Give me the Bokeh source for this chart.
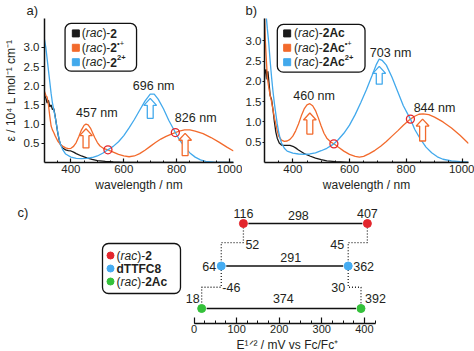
from bokeh.plotting import figure
from bokeh.layouts import column, row
from bokeh.models import Range1d, FixedTicker, BoxAnnotation, PrintfTickFormatter, Title
from bokeh.core.properties import value
from bokeh.embed import file_html
from bokeh.resources import INLINE

FONT = "Liberation Sans"
TXT = "#231f20"
BLACK = "#1a1a1a"
ORANGE = "#f26a2c"
BLUE = "#42a9ec"
RED = "#e3262d"
GREEN = "#34c13a"
CBLUE = "#45acf2"

# ---------------- data: panel a ----------------
wl_a_neutral = [300, 305, 310, 315, 320, 325, 330, 335, 340, 345, 350, 355, 360, 370, 380, 390, 400, 410, 420, 440,
                460, 480, 500, 530, 560, 600, 700, 800, 900, 1015]
eps_a_neutral = [1.75, 1.68, 1.55, 1.62, 1.45, 1.5, 1.38, 1.4, 1.22, 1.0, 0.78, 0.6, 0.48, 0.37, 0.33, 0.31, 0.3, 0.27,
                 0.23, 0.17, 0.12, 0.08, 0.05, 0.03, 0.015, 0.005, 0, 0, 0, 0]
wl_a_rad = [300, 305, 310, 315, 320, 325, 330, 335, 340, 350, 360, 370, 380, 390, 400, 410, 420, 430, 440, 450, 457,
            465, 475, 490, 500, 510, 525, 540, 560, 580, 600, 620, 640, 660, 680, 700, 720, 740, 760, 780, 795, 810,
            830, 850, 870, 900, 930, 960, 990, 1015]
eps_a_rad = [1.85, 1.75, 1.7, 1.5, 1.2, 0.95, 0.85, 0.78, 0.7, 0.56, 0.47, 0.42, 0.38, 0.36, 0.37, 0.42, 0.52, 0.68,
             0.85, 0.97, 1.0, 0.98, 0.88, 0.65, 0.52, 0.43, 0.36, 0.33, 0.27, 0.21, 0.17, 0.15, 0.17, 0.23, 0.32, 0.42,
             0.52, 0.61, 0.68, 0.74, 0.78, 0.82, 0.85, 0.85, 0.82, 0.75, 0.65, 0.53, 0.4, 0.3]
wl_a_dic = [300, 305, 310, 315, 320, 325, 330, 335, 340, 345, 350, 355, 360, 370, 380, 400, 420, 440, 460, 480, 500,
            520, 540, 560, 580, 600, 620, 640, 660, 680, 700, 715, 730, 750, 770, 795, 810, 830, 850, 870, 890, 910,
            940, 970, 1015]
eps_a_dic = [3.2, 3.0, 2.7, 2.4, 2.1, 1.8, 1.55, 1.38, 1.2, 1.0, 0.8, 0.62, 0.48, 0.32, 0.22, 0.14, 0.11, 0.1, 0.11,
             0.13, 0.17, 0.24, 0.33, 0.42, 0.54, 0.7, 0.9, 1.12, 1.36, 1.6, 1.78, 1.78, 1.65, 1.4, 1.1, 0.78, 0.6, 0.4,
             0.25, 0.14, 0.07, 0.03, 0.01, 0.0, 0.0]
peak_text_a = ["457 nm", "696 nm", "826 nm"]
peak_lx_a = [498, 713, 872]
peak_ly_a = [1.28, 2.0, 1.15]
arrow_x_a = [457, 700, 832]
arrow_y0_a = [0.38, 1.15, 0.18]
arrow_y1_a = [0.88, 1.67, 0.76]
iso_x_a = [540, 795]
iso_y_a = [0.33, 0.78]

# ---------------- data: panel b ----------------
wl_b_neutral = [300, 303, 306, 309, 312, 316, 320, 325, 330, 335, 340, 345, 352, 360, 370, 390, 400, 410, 420, 440,
                460, 480, 500, 520, 550, 600, 700, 800, 900, 1020]
eps_b_neutral = [2.05, 2.25, 2.3, 2.05, 2.25, 1.95, 1.65, 1.55, 1.3, 1.0, 0.75, 0.6, 0.48, 0.43, 0.42, 0.42, 0.4, 0.36,
                 0.31, 0.22, 0.16, 0.11, 0.07, 0.04, 0.02, 0.0, 0, 0, 0, 0]
wl_b_rad = [300, 303, 306, 310, 315, 320, 325, 330, 335, 340, 345, 350, 360, 370, 380, 390, 400, 410, 420, 430, 440,
            450, 460, 470, 480, 490, 500, 510, 520, 535, 545, 560, 580, 600, 620, 635, 650, 670, 690, 710, 730, 750,
            770, 790, 815, 830, 845, 860, 880, 900, 930, 960, 990, 1020]
eps_b_rad = [3.6, 3.0, 2.6, 2.1, 1.85, 1.65, 1.5, 1.3, 1.1, 0.95, 0.78, 0.65, 0.55, 0.52, 0.53, 0.57, 0.65, 0.78, 0.95,
             1.15, 1.32, 1.42, 1.45, 1.4, 1.28, 1.1, 0.9, 0.72, 0.6, 0.5, 0.46, 0.38, 0.28, 0.2, 0.15, 0.13, 0.15,
             0.22, 0.3, 0.4, 0.52, 0.65, 0.78, 0.92, 1.07, 1.14, 1.19, 1.2, 1.18, 1.12, 1.0, 0.85, 0.67, 0.47]
wl_b_dic = [300, 305, 310, 315, 320, 325, 330, 335, 340, 345, 350, 355, 360, 370, 380, 400, 420, 440, 460, 480, 500,
            520, 545, 560, 580, 600, 620, 640, 660, 680, 695, 705, 715, 730, 750, 770, 790, 815, 830, 850, 870, 890,
            910, 930, 960, 990, 1020]
eps_b_dic = [4.0, 3.7, 3.3, 2.95, 2.5, 2.1, 1.75, 1.45, 1.2, 0.95, 0.75, 0.6, 0.48, 0.35, 0.28, 0.23, 0.21, 0.2, 0.21,
             0.24, 0.29, 0.35, 0.46, 0.56, 0.72, 0.92, 1.18, 1.48, 1.8, 2.15, 2.42, 2.55, 2.52, 2.4, 2.1, 1.75, 1.4,
             1.07, 0.82, 0.58, 0.38, 0.24, 0.14, 0.08, 0.04, 0.02, 0.01]
peak_text_b = ["460 nm", "703 nm", "844 nm"]
peak_lx_b = [475, 745, 900]
peak_ly_b = [1.64, 2.7, 1.35]
arrow_x_b = [460, 705, 858]
arrow_y0_b = [0.70, 1.93, 0.53]
arrow_y1_b = [1.22, 2.37, 1.07]
iso_x_b = [545, 815]
iso_y_b = [0.46, 1.07]

wl_ticks = [400, 600, 800, 1000]
eps_ticks = [0.5, 1.0, 1.5, 2.0, 2.5, 3.0]

# ---------------- data: panel c ----------------
compounds_c = ["(rac)-2", "dTTFC8", "(rac)-2Ac"]
e1_c = [116, 64, 18]
e2_c = [407, 362, 392]
de_c = [298, 291, 374]
shift1_c = [52, -46]     # first wave vs dTTFC8
shift2_c = [45, 30]      # second wave vs dTTFC8
e_ticks = [0, 100, 200, 300, 400]

# ---------------- helpers ----------------
W_REG = {'(': 333, ')': 333, '-': 333, 'r': 333, 'a': 556, 'c': 500, '2': 556, 'A': 667, ' ': 278, '/': 278,
         'm': 833, 'V': 667, 'v': 500, 's': 500, 'F': 611, '1': 556, '+': 584}
W_BOLD = {'2': 556, 'A': 722, 'c': 556, 'd': 611, 'T': 611, 'F': 611, 'C': 722, '8': 556, 'E': 667}


def tw(s, size, bold=False):
    d = W_BOLD if bold else W_REG
    return sum(d.get(ch, 556) for ch in s) * size / 1000.0


def txt(p, x, y, s, size=12, style="normal", align="left", xo=0, color=TXT):
    p.text(x=[x], y=[y], text=[s], x_offset=xo, text_font=value(FONT), text_font_size=f"{size}px",
           text_font_style=style, text_align=align, text_baseline="middle", text_color=color)


def styled_label(p, X, Y, sx, sy, parts, size):
    off = 0
    for s, style, sz, dy in parts:
        txt(p, X(sx), Y(sy - dy), s, size=sz, style=style, xo=off)
        off += tw(s, sz, "bold" in style)


def draw_legend(p, X, Y, box, rows, marker, msize, mx, tx, size=12):
    l, r, t, b = box
    p.add_layout(BoxAnnotation(left=X(l), right=X(r), top=Y(t), bottom=Y(b), fill_color="white", fill_alpha=1,
                               line_color="#111111", line_width=1.3, line_alpha=1, border_radius=6, level="underlay"))
    for sy, color, parts in rows:
        p.scatter([X(mx)], [Y(sy)], marker=marker, size=msize, fill_color=color, line_color=color)
        styled_label(p, X, Y, tx, sy, parts, size)


def arrow_poly(x, y0, y1, kx, ky, sw=3.0, hw=6.5, hl=7.0):
    a, b, h = sw / kx, hw / kx, hl / ky
    xs = [x - a, x + a, x + a, x + b, x, x - b, x - a]
    ys = [y0, y0, y1 - h, y1 - h, y1, y1 - h, y1 - h]
    return xs, ys


def spectrum_fig(width, left, right, xr, yr, ylabel, letter, letter_off, ytick_out, ystandoff):
    p = figure(width=width, height=195, x_range=Range1d(*xr), y_range=Range1d(*yr), output_backend="svg",
               toolbar_location=None, min_border_left=left, min_border_right=right, min_border_top=17,
               min_border_bottom=33, title=letter)
    p.title.align = "left"
    p.title.offset = letter_off
    p.title.text_font = FONT
    p.title.text_font_size = "13px"
    p.title.text_font_style = "normal"
    p.title.text_color = TXT
    p.title.standoff = 1
    p.outline_line_color = None
    p.xgrid.visible = False
    p.ygrid.visible = False
    p.background_fill_color = "white"
    p.border_fill_color = "white"
    xa, ya = p.xaxis[0], p.yaxis[0]
    xa.ticker = FixedTicker(ticks=wl_ticks, minor_ticks=list(range(350, 1001, 50)))
    xa.major_tick_in, xa.major_tick_out = 4, 0
    xa.minor_tick_in, xa.minor_tick_out = 2, 0
    ya.ticker = FixedTicker(ticks=eps_ticks)
    ya.formatter = PrintfTickFormatter(format="%.1f")
    for ax in (xa, ya):
        ax.axis_line_width = 1.5
        ax.axis_line_color = "#111111"
        ax.major_tick_line_color = "#111111"
        ax.major_tick_line_width = 1.2
        ax.major_label_text_font = FONT
        ax.major_label_text_font_size = "11.5px"
        ax.major_label_text_color = TXT
        ax.major_label_standoff = 2
        ax.axis_label_text_font = FONT
        ax.axis_label_text_font_size = "12px"
        ax.axis_label_text_font_style = "normal"
        ax.axis_label_text_color = TXT
    ya.major_tick_in, ya.major_tick_out = 0, ytick_out
    ya.major_label_standoff = ystandoff
    xa.minor_tick_line_color = "#111111"
    ya.minor_tick_line_color = None
    xa.axis_label = "wavelength / nm"
    xa.axis_label_standoff = 2
    if ylabel:
        ya.axis_label = ylabel
        ya.axis_label_standoff = 3
    return p


def draw_spectra(p, series, peaks, arrows, iso, kx, ky):
    for wl, eps, color in series:
        p.line(wl, eps, line_color=color, line_width=1.3)
    ax_, ay0, ay1, acol = arrows
    xs, ys = [], []
    for x, y0, y1 in zip(ax_, ay0, ay1):
        a, b = arrow_poly(x, y0, y1, kx, ky)
        xs.append(a)
        ys.append(b)
    p.patches(xs, ys, fill_color="white", line_color=acol, line_width=1.3)
    ptxt, plx, ply = peaks
    p.text(x=plx, y=ply, text=ptxt, text_font=value(FONT), text_font_size="12.5px", text_align="center",
           text_baseline="middle", text_color=TXT)
    p.scatter(iso[0], iso[1], marker="circle", size=8, fill_color=None, line_color=RED, line_width=1.3)


# ---------------- panel a ----------------
XA0, XA1, YA1 = 300, 1015, 3.75
pa = spectrum_fig(242, 40, 9, (XA0, XA1), (0, YA1), "ε / 10⁴ L mol⁻¹ cm⁻¹", "a)", -18, 3, 2)
kxa, kya = 193 / (XA1 - XA0), 145 / YA1
Xa = lambda sx: XA0 + (sx - 40) / kxa
Ya = lambda sy: (162 - sy) / kya
draw_spectra(pa, [(wl_a_neutral, eps_a_neutral, BLACK), (wl_a_rad, eps_a_rad, ORANGE), (wl_a_dic, eps_a_dic, BLUE)],
             (peak_text_a, peak_lx_a, peak_ly_a),
             (arrow_x_a, arrow_y0_a, arrow_y1_a, [ORANGE, BLUE, ORANGE]), (iso_x_a, iso_y_a), kxa, kya)
pre = [("(", "normal", 12, 0), ("rac", "italic", 12, 0), (")-", "normal", 12, 0)]
draw_legend(pa, Xa, Ya, (61, 134, 22, 70),
            [(32, BLACK, pre + [("2", "bold", 12, 0)]),
             (46.5, ORANGE, pre + [("2", "bold", 12, 0), ("•+", "normal", 7.5, 4.5)]),
             (61, BLUE, pre + [("2", "bold", 12, 0), ("2+", "bold", 7.5, 4.5)])],
            "square", 7, 72, 78)

# ---------------- panel b ----------------
XB0, XB1, YB1 = 300, 1020, 3.55
pb = spectrum_fig(232, 19, 6, (XB0, XB1), (0, YB1), None, "b)", -19, 2, 1)
kxb, kyb = 207 / (XB1 - XB0), 145 / YB1
Xb = lambda sx: XB0 + (sx - 261) / kxb
Yb = lambda sy: (162 - sy) / kyb
draw_spectra(pb, [(wl_b_neutral, eps_b_neutral, BLACK), (wl_b_rad, eps_b_rad, ORANGE), (wl_b_dic, eps_b_dic, BLUE)],
             (peak_text_b, peak_lx_b, peak_ly_b),
             (arrow_x_b, arrow_y0_b, arrow_y1_b, [ORANGE, BLUE, ORANGE]), (iso_x_b, iso_y_b), kxb, kyb)
draw_legend(pb, Xb, Yb, (274, 363, 23, 71),
            [(32, BLACK, pre + [("2Ac", "bold", 12, 0)]),
             (46.5, ORANGE, pre + [("2Ac", "bold", 12, 0), ("•+", "normal", 7.5, 4.5)]),
             (61, BLUE, pre + [("2Ac", "bold", 12, 0), ("2+", "bold", 7.5, 4.5)])],
            "square", 7, 284, 291)

# ---------------- panel c ----------------
KC, X0C, UC, YG = 0.426, 193.5, 42.5, 308      # px per mV, px of 0 mV, px per row, px of bottom row
Xc = lambda sx: (sx - X0C) / KC
Yc = lambda sy: (YG - sy) / UC
pc = figure(width=474, height=156, x_range=Range1d(Xc(0), Xc(474)), y_range=Range1d(Yc(323), Yc(195)),
            output_backend="svg", toolbar_location=None, y_axis_location=None, min_border_left=0,
            min_border_right=0, min_border_top=0, min_border_bottom=28)
pc.outline_line_color = None
pc.xgrid.visible = False
pc.ygrid.visible = False
xc = pc.xaxis[0]
xc.bounds = (0, Xc(375))
xc.ticker = FixedTicker(ticks=e_ticks, minor_ticks=list(range(0, 426, 25)))
xc.major_tick_in, xc.major_tick_out = 6, 0
xc.minor_tick_in, xc.minor_tick_out = 3, 0
xc.axis_line_width = 1.3
xc.major_tick_line_width = 1.2
xc.axis_line_color = "#111111"
xc.major_tick_line_color = "#111111"
xc.minor_tick_line_color = "#111111"
xc.major_label_text_font = FONT
xc.major_label_text_font_size = "11px"
xc.major_label_text_color = TXT
xc.major_label_standoff = 1
# axis title placed as a below-title so it can sit under the axis' own span
pc.add_layout(Title(text="E¹ᐟ² / mV vs Fc/Fc⁺", align="left", offset=236, text_font=FONT,
                    text_font_size="12px", text_font_style="normal", text_color=TXT, standoff=0), "below")

levels = [2, 1, 0]
mids = [1.55, 0.5]
cols_c = [RED, CBLUE, GREEN]
gapx = 5 / KC
gapy = 4 / UC
dx, dy = [], []
for i in range(2):
    up, lo = levels[i], levels[i + 1]
    dx.append([e1_c[i], e1_c[i], e1_c[i + 1], e1_c[i + 1]])
    dy.append([up - gapy, mids[i], mids[i], lo + gapy])
    dx.append([e2_c[i], e2_c[i], e2_c[i + 1], e2_c[i + 1]])
    dy.append([up - gapy, mids[i], mids[i], lo + gapy])
pc.multi_line(dx, dy, line_color="#222222", line_width=1.3, line_dash="1 2")
pc.segment(x0=[e + gapx for e in e1_c], y0=levels, x1=[e - gapx for e in e2_c], y1=levels,
           line_color="#111111", line_width=1.5)
pc.scatter(e1_c + e2_c, levels + levels, marker="circle", size=8, fill_color=cols_c + cols_c,
           line_color=cols_c + cols_c)
lift = 10 / UC
txt(pc, e1_c[0], levels[0] + lift, str(e1_c[0]), 12.5, align="center")
txt(pc, e2_c[0], levels[0] + lift, str(e2_c[0]), 12.5, align="center")
txt(pc, (e1_c[0] + e2_c[0]) / 2, levels[0] + 8 / UC, str(de_c[0]), 12.5, align="center", xo=-7)
txt(pc, e1_c[1], levels[1], str(e1_c[1]), 12.5, align="right", xo=-5)
txt(pc, e2_c[1], levels[1], str(e2_c[1]), 12.5, align="left", xo=5)
txt(pc, (e1_c[1] + e2_c[1]) / 2, levels[1] + 9 / UC, str(de_c[1]), 12.5, align="center", xo=6)
txt(pc, e1_c[2], levels[2] + lift, str(e1_c[2]), 12.5, align="right", xo=-2)
txt(pc, e2_c[2], levels[2] + lift, str(e2_c[2]), 12.5, align="left", xo=4)
txt(pc, (e1_c[2] + e2_c[2]) / 2, levels[2] + lift, str(de_c[2]), 12.5, align="center", xo=2)
txt(pc, e1_c[0], mids[0] - 2 / UC, str(shift1_c[0]), 12.5, align="left", xo=2)
txt(pc, e2_c[1], mids[0] - 2 / UC, str(shift2_c[0]), 12.5, align="right", xo=-4)
txt(pc, e1_c[1], mids[1], str(shift1_c[1]), 12.5, align="left", xo=1)
txt(pc, e2_c[1], mids[1], str(shift2_c[1]), 12.5, align="right", xo=-3)
txt(pc, Xc(17), Yc(212), "c)", 13)
draw_legend(pc, Xc, Yc, (102, 180, 243, 293),
            [(255, RED, pre + [("2", "bold", 12, 0)]),
             (268, CBLUE, [("dTTFC8", "bold", 12, 0)]),
             (281, GREEN, pre + [("2Ac", "bold", 12, 0)])],
            "circle", 7, 110, 116)

layout = column(row(pa, pb), pc)
open("out.html", "w").write(file_html(layout, INLINE))
